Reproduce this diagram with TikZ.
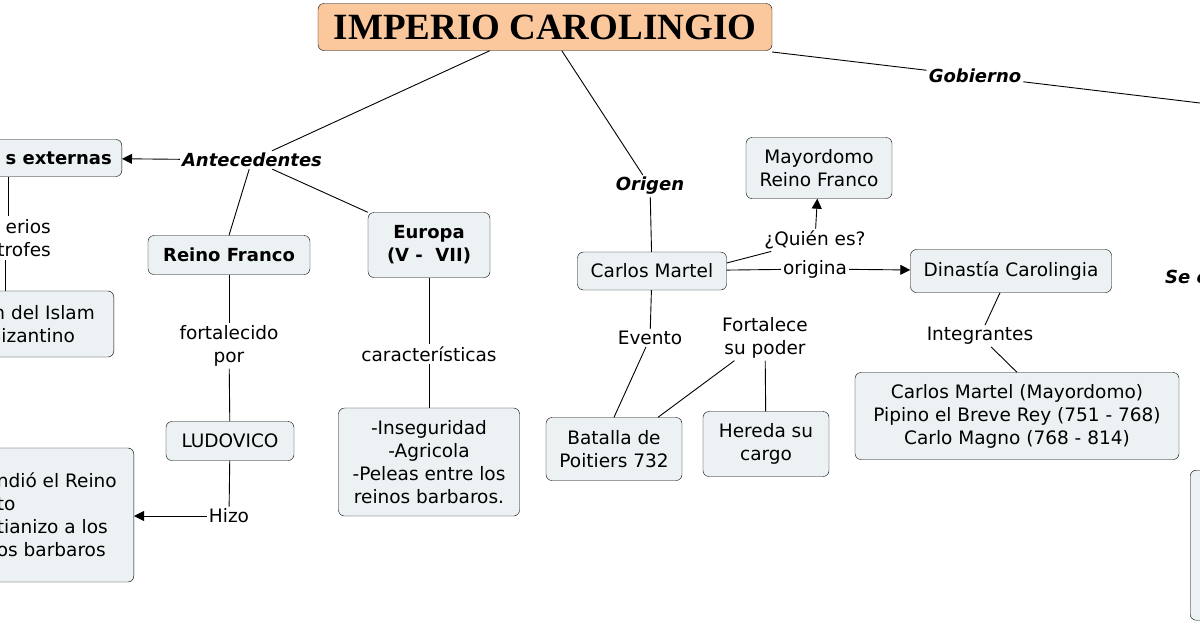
\documentclass[tikz,border=0pt]{standalone}
\usepackage{fontspec}
\setmainfont{DejaVu Sans}
\newfontfamily\titlefont{Liberation Serif}
\usetikzlibrary{arrows.meta}
\definecolor{boxfill}{RGB}{236,242,244}
\definecolor{titlefill}{RGB}{251,200,158}
\tikzset{
 cbox/.style={draw,rounded corners=6pt,fill=boxfill,align=center,font=\fontsize{18.5}{23}\selectfont,inner sep=0pt},
 lbl/.style={align=center,font=\fontsize{18.5}{23}\selectfont,inner sep=2pt},
 blbl/.style={align=center,font=\fontsize{18}{23}\selectfont\bfseries\itshape,inner sep=2pt},
 ln/.style={draw,line width=0.9pt},
 arr/.style={ln,-{Triangle[length=10pt,width=10pt]}}
}
\begin{document}
\begin{tikzpicture}[x=1pt,y=-1pt]
\useasboundingbox (0,0) rectangle (1200,630);
\clip (0,0) rectangle (1200,630);
% title
\node[draw,rounded corners=6pt,fill=titlefill,minimum width=454,minimum height=47,font=\titlefont\fontsize{37}{42}\selectfont\bfseries] (title) at (545,27) {IMPERIO CAROLINGIO};
% left part
\node[cbox,minimum width=142,minimum height=37,font=\fontsize{18}{23}\selectfont\bfseries,anchor=east] (ext) at (122,158) {\hspace*{40pt}s externas\hspace*{10pt}};
\node[blbl] (ante) at (252,160) {Antecedentes};
\node[lbl,anchor=east,align=right] (imp) at (53,238) {erios\\trofes};
\coordinate (extb) at (8,177);
\coordinate (impt) at (8,216);
\coordinate (impb) at (5,260);
\coordinate (islt) at (5,291);
\node[cbox,minimum width=134,minimum height=66,anchor=east,align=right] (islam) at (114,324) {n del Islam\hspace*{10pt}\\Bizantino\hspace*{30pt}};
\node[cbox,minimum width=162,minimum height=39,font=\fontsize{18}{23}\selectfont\bfseries] (rf) at (229,255) {Reino Franco};
\node[cbox,minimum width=122,minimum height=65,font=\fontsize{18}{23}\selectfont\bfseries] (eu) at (429,245) {Europa\\(V -\ \ VII)};
\node[lbl] (fort) at (229,346) {fortalecido\\por};
\node[cbox,minimum width=128,minimum height=39] (lud) at (230,441) {LUDOVICO};
\node[lbl] (hizo) at (229,516) {Hizo};
\node[cbox,minimum width=154,minimum height=134,anchor=east,align=left] (exp) at (134,515) {ndió el Reino\\to\\tianizo a los\\os barbaros};
\node[lbl] (car) at (429,354) {características};
\node[cbox,minimum width=181,minimum height=108] (carb) at (429,462) {-Inseguridad\\-Agricola\\-Peleas entre los\\reinos barbaros.};
% middle
\node[blbl] (ori) at (650,186) {Origen};
\node[cbox,minimum width=149,minimum height=38] (cm) at (652,271) {Carlos Martel};
\node[cbox,minimum width=146,minimum height=61] (may) at (819,168) {Mayordomo\\Reino Franco};
\node[lbl] (quien) at (815,240) {¿Quién es?};
\node[lbl] (orig) at (815,269) {origina};
\node[cbox,minimum width=201,minimum height=43] (din) at (1011,271) {Dinastía Carolingia};
\node[lbl] (ev) at (650,338) {Evento};
\node[cbox,minimum width=136,minimum height=63] (bat) at (614,449) {Batalla de\\Poitiers 732};
\node[lbl] (fp) at (765,338) {Fortalece\\su poder};
\node[cbox,minimum width=126,minimum height=65] (her) at (766,444) {Hereda su\\cargo};
\node[lbl] (int) at (980,336) {Integrantes};
\node[cbox,minimum width=324,minimum height=87] (intb) at (1017,416) {Carlos Martel (Mayordomo)\\Pipino el Breve Rey (751 - 768)\\Carlo Magno (768 - 814)};
% right
\node[blbl] (gob) at (975,76) {Gobierno};
\coordinate (gobend) at (1200,103);
\node[blbl,anchor=west] (sec) at (1163,277) {Se c};
\node[cbox,minimum width=40,minimum height=150,anchor=north west] (rb) at (1190,470) {};
% connectors
\draw[ln] (title.south west)++(172,0) -- (ante);
\draw[arr] (ante) -- (ext);
\draw[ln] (ante) -- (rf.north);
\draw[ln] (ante) -- (eu.north west);
\draw[ln] (extb) -- (impt);
\draw[ln] (impb) -- (islt);
\draw[ln] (rf) -- (fort);
\draw[ln] (fort) -- (lud);
\draw[ln] (lud) -- (hizo);
\draw[arr] (hizo) -- (exp.east |- hizo);
\draw[ln] (eu) -- (car);
\draw[ln] (car) -- (carb);
\draw[ln] (title.south west)++(244,0) -- (ori);
\draw[ln] (ori) -- (cm);
\draw[ln] (cm.east)++(0,-8) -- (quien);
\draw[arr] (quien) -- (may);
\draw[ln] (cm) -- (orig);
\draw[arr] (orig) -- (din);
\draw[ln] (cm) -- (ev);
\draw[ln] (ev) -- (bat.north);
\draw[ln] (bat.north)++(44,0) -- (fp);
\draw[ln] (fp) -- (her);
\draw[ln] (din.south)++(-11,0) -- (int);
\draw[ln] (int) -- (intb.north);
\draw[ln] (title.east)++(0,25) -- (gob);
\draw[ln] (gob) -- (gobend);
\end{tikzpicture}
\end{document}
